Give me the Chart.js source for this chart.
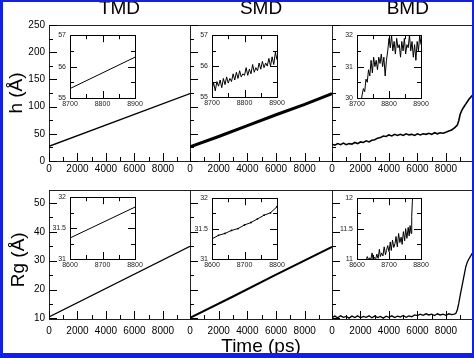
<!DOCTYPE html>
<html>
<head>
<meta charset="utf-8">
<script src="https://cdn.jsdelivr.net/npm/chart.js@4.4.1/dist/chart.umd.min.js"></script>
<style>
  html, body { margin: 0; padding: 0; background: #fff; }
  #page { position: relative; width: 474px; height: 358px; overflow: hidden; background: #fff; }
  #page canvas { position: absolute; }
  #frame { position: absolute; left: 0; top: 0; width: 474px; height: 358px; box-sizing: border-box;
           border-style: solid; border-color: #1020e8; border-width: 2px 2px 5px 3px; z-index: 10; }
</style>
</head>
<body>
<div id="page"><div id="frame"></div></div>
<script>
// --- data ---
const timeTicks = [0, 1000, 2000, 3000, 4000, 5000, 6000, 7000, 8000, 9000];
const timeLabels = [0, 2000, 4000, 6000, 8000];
const hTicks = [0, 25, 50, 75, 100, 125, 150, 175, 200, 225, 250];
const hLabels = [0, 50, 100, 150, 200, 250];
const rgTicks = [10, 15, 20, 25, 30, 35, 40, 45, 50];
const rgLabels = [10, 20, 30, 40, 50];

// main curves [time (ps), value]
const tmdH = [[0, 27], [9900, 124]];
const smdH = [[0, 26], [2000, 45], [4000, 65], [6000, 85], [8000, 104], [9900, 124]];
const bmdH = [
  [0, 31], [200, 29], [400, 32], [600, 30], [800, 33], [1000, 30], [1200, 32], [1400, 31],
  [1600, 34], [1800, 32], [2000, 35], [2200, 34], [2400, 37], [2600, 35], [2800, 38], [3000, 39],
  [3200, 42], [3400, 43], [3600, 46], [3800, 45], [4000, 48], [4200, 46], [4400, 49], [4600, 47],
  [4800, 49], [5000, 47], [5200, 50], [5400, 48], [5600, 49], [5800, 47], [6000, 50], [6200, 48],
  [6400, 50], [6600, 49], [6800, 51], [7000, 49], [7200, 52], [7400, 50], [7600, 52], [7800, 51],
  [8000, 53], [8200, 55], [8400, 57], [8600, 61], [8800, 66], [8900, 74], [9000, 86], [9100, 92],
  [9200, 97], [9300, 101], [9400, 105], [9500, 109], [9600, 113], [9700, 116], [9800, 119], [9900, 122]
];
const tmdRg = [[0, 10.5], [9900, 35]];
const smdRg = [[0, 10.2], [3000, 17.6], [6000, 25.2], [9900, 34.8]];
const bmdRg = [
  [0, 10.3], [200, 10.8], [400, 10.2], [600, 10.9], [800, 10.4], [1000, 10.7], [1200, 10.1], [1400, 10.8],
  [1600, 10.3], [1800, 10.9], [2000, 10.2], [2200, 10.7], [2400, 10.4], [2600, 10.9], [2800, 10.2], [3000, 10.8],
  [3200, 10.3], [3400, 10.7], [3600, 10.1], [3800, 10.8], [4000, 10.4], [4200, 10.9], [4400, 10.3], [4600, 10.8],
  [4800, 10.5], [5000, 11.0], [5200, 10.4], [5400, 10.9], [5600, 10.6], [5800, 11.2], [6000, 11.0], [6200, 11.5],
  [6400, 11.1], [6600, 11.6], [6800, 11.2], [7000, 11.5], [7200, 11.0], [7400, 11.6], [7600, 11.2], [7800, 11.5],
  [8000, 11.1], [8200, 11.6], [8400, 11.3], [8600, 11.5], [8700, 11.8], [8800, 13.0], [8900, 15.2], [9000, 18],
  [9100, 20.5], [9200, 23], [9300, 25.5], [9400, 28], [9500, 29.5], [9600, 30.5], [9700, 31.3], [9800, 32.2], [9900, 33]
];

// insets
const hInsetTicks = [8700, 8750, 8800, 8850, 8900];
const hInsetLabels = [8700, 8800, 8900];
const rgInsetTicks = [8600, 8650, 8700, 8750, 8800];
const rgInsetLabels = [8600, 8700, 8800];
const tmdHInY = [55, 55.5, 56, 56.5, 57], tmdHInLab = [55, 56, 57];
const bmdHInY = [30, 30.5, 31, 31.5, 32], bmdHInLab = [30, 31, 32];
const rgInY = [31, 31.25, 31.5, 31.75, 32], rgInLab = [31, 31.5, 32];
const bmdRgInY = [11, 11.25, 11.5, 11.75, 12], bmdRgInLab = [11, 11.5, 12];

const tmdHInset = [[8700, 55.3], [8900, 56.3]];
const smdHInset = [
  [8700, 55.25], [8705, 55.45], [8710, 55.2], [8715, 55.5], [8720, 55.35], [8725, 55.55], [8730, 55.3],
  [8735, 55.6], [8740, 55.4], [8745, 55.65], [8750, 55.45], [8755, 55.6], [8760, 55.5], [8765, 55.75],
  [8770, 55.55], [8775, 55.8], [8780, 55.6], [8785, 55.85], [8790, 55.65], [8795, 55.75], [8800, 55.7],
  [8805, 55.95], [8810, 55.7], [8815, 55.9], [8820, 55.75], [8825, 56.05], [8830, 55.8], [8835, 55.95],
  [8840, 55.85], [8845, 56.1], [8850, 55.9], [8855, 56.15], [8860, 55.95], [8865, 56.1], [8870, 56.0],
  [8875, 56.25], [8880, 56.0], [8885, 56.3], [8890, 56.05], [8895, 56.45], [8900, 56.2]
];
const bmdHInset = [
  [8712, 29.8], [8716, 30.1], [8720, 30.3], [8724, 30.2], [8728, 30.6], [8732, 30.5], [8736, 30.9],
  [8740, 30.7], [8744, 31.2], [8748, 30.8], [8752, 31.3], [8756, 31.0], [8760, 31.2], [8764, 30.9],
  [8768, 31.3], [8772, 31.1], [8776, 31.4], [8780, 31.0], [8784, 31.3], [8788, 30.7], [8792, 31.2],
  [8796, 31.5], [8800, 31.9], [8804, 31.6], [8808, 32.0], [8812, 31.5], [8816, 31.8], [8820, 31.4],
  [8824, 31.9], [8828, 31.6], [8832, 31.7], [8836, 31.3], [8840, 31.8], [8844, 31.5], [8848, 31.9],
  [8852, 31.4], [8856, 31.7], [8860, 31.6], [8864, 32.0], [8868, 31.5], [8872, 31.8], [8876, 31.3],
  [8880, 31.7], [8884, 31.2], [8888, 31.8], [8892, 31.5], [8896, 32.0], [8900, 31.7]
];
const tmdRgInset = [[8600, 31.34], [8800, 31.84]];
const smdRgInset = [
  [8600, 31.33], [8620, 31.39], [8640, 31.42], [8660, 31.47], [8680, 31.5], [8700, 31.56],
  [8720, 31.6], [8740, 31.66], [8760, 31.72], [8780, 31.76], [8800, 31.86]
];
const bmdRgInset = [
  [8628, 10.96], [8632, 11.04], [8636, 10.99], [8640, 11.02], [8643, 10.98], [8647, 11.1], [8650, 11.0],
  [8654, 11.03], [8658, 10.99], [8662, 11.08], [8666, 11.01], [8670, 11.16], [8673, 11.04], [8677, 11.1],
  [8681, 11.05], [8685, 11.2], [8689, 11.07], [8692, 11.14], [8696, 11.22], [8700, 11.12], [8704, 11.28],
  [8707, 11.14], [8711, 11.31], [8715, 11.19], [8719, 11.26], [8722, 11.37], [8726, 11.2], [8730, 11.42],
  [8734, 11.27], [8738, 11.36], [8741, 11.24], [8745, 11.45], [8749, 11.3], [8752, 11.5], [8756, 11.34],
  [8760, 11.52], [8763, 11.38], [8766, 11.55], [8769, 11.42], [8771, 11.7], [8773, 11.95], [8775, 12.1]
];

// --- layout ---
const FONT = '"Liberation Sans", Arial, Helvetica, sans-serif';
const page = document.getElementById('page');
const cols = [{ l: 49, w: 141 }, { l: 190, w: 142 }, { l: 332, w: 141 }];
const rows = [{ t: 25, h: 136 }, { t: 190, h: 129 }];

function addCanvas(l, t, w, h) {
  const c = document.createElement('canvas');
  c.width = w; c.height = h;
  c.style.left = l + 'px'; c.style.top = t + 'px';
  c.style.width = w + 'px'; c.style.height = h + 'px';
  page.insertBefore(c, document.getElementById('frame'));
  return c;
}

function axis(pos, o) {
  const vert = pos === 'left' || pos === 'right';
  const ticks = o.ticks || [o.min, o.max];
  const majors = o.majors || [];
  return {
    type: 'linear', axis: vert ? 'y' : 'x', position: pos,
    min: o.min, max: o.max,
    afterBuildTicks: s => { s.ticks = ticks.map(v => ({ value: v })); },
    afterFit: s => { if (vert) s.width = o.size; else s.height = o.size; },
    grid: { drawOnChartArea: false, drawTicks: false },
    border: { display: true, color: o.frame || '#000', width: 1 },
    ticks: {
      display: !!o.labels, autoSkip: false, maxRotation: 0, minRotation: 0,
      padding: o.pad || 0, color: o.color || '#000',
      font: { family: FONT, size: o.fontSize || 10 },
      callback: v => (o.labels && majors.includes(v)) ? String(v) : ''
    },
    title: o.title
      ? { display: true, text: o.title, color: '#000', font: { family: FONT, size: 19 }, padding: o.titlePad }
      : { display: false }
  };
}

function line(pairs, w, extra) {
  return Object.assign({
    data: pairs.map(p => ({ x: p[0], y: p[1] })),
    borderColor: '#000', borderWidth: w, pointRadius: 0, tension: 0, fill: false
  }, extra || {});
}

// axes: { id: [position, opts] }
function chart(box, mg, axes, datasets) {
  const scales = {}, specs = [];
  Object.keys(axes).forEach(id => {
    const [pos, o] = axes[id];
    scales[id] = axis(pos, o);
    if (o.major) specs.push({ id, pos, values: o.ticks, majors: o.majors, major: o.major, minor: o.minor });
  });
  // tick marks pointing into the plot, long at labelled values
  const inwardTicks = {
    id: 'inwardTicks',
    afterDraw(ch) {
      const ctx = ch.ctx, a = ch.chartArea;
      ctx.save();
      ctx.strokeStyle = '#000';
      ctx.lineWidth = 1;
      ctx.setLineDash([]);
      ctx.beginPath();
      specs.forEach(sp => {
        const s = ch.scales[sp.id];
        sp.values.forEach(v => {
          const len = sp.majors.indexOf(v) >= 0 ? sp.major : sp.minor;
          const p = Math.round(s.getPixelForValue(v)) + 0.5;
          if (sp.pos === 'bottom') { ctx.moveTo(p, a.bottom); ctx.lineTo(p, a.bottom - len); }
          else if (sp.pos === 'top') { ctx.moveTo(p, a.top); ctx.lineTo(p, a.top + len); }
          else if (sp.pos === 'left') { ctx.moveTo(a.left, p); ctx.lineTo(a.left + len, p); }
          else { ctx.moveTo(a.right, p); ctx.lineTo(a.right - len, p); }
        });
      });
      ctx.stroke();
      ctx.restore();
    }
  };
  const c = addCanvas(box.l - mg.l, box.t - mg.t, box.w + mg.l + mg.r, box.h + mg.t + mg.b);
  new Chart(c, {
    type: 'line',
    data: { datasets },
    options: {
      responsive: false, animation: false, events: [],
      layout: { padding: 0 },
      plugins: { legend: { display: false }, tooltip: { enabled: false } },
      scales
    },
    plugins: [inwardTicks]
  });
}

// --- main panels ---
const titles = ['TMD', 'SMD', '\u00a0\u00a0BMD'];
const hData = [tmdH, smdH, bmdH];
const hWidth = [1.3, 3, 1.6];
const rgData = [tmdRg, smdRg, bmdRg];
const rgWidth = [1.3, 2, 1.3];
const FRAME = '#222';

cols.forEach((col, i) => {
  // top row: h
  let box = { l: col.l, t: rows[0].t, w: col.w, h: rows[0].h };
  let mg = { l: 45, t: 30, r: 8, b: 22 };
  chart(box, mg, {
    x: ['bottom', { min: 0, max: 9900, ticks: timeTicks, majors: timeLabels, size: mg.b, major: 8, minor: 4, pad: 2, labels: true, frame: FRAME }],
    x2: ['top', { min: 0, max: 9900, size: mg.t, frame: FRAME, title: titles[i], titlePad: { top: 2, bottom: 0 } }],
    y: ['left', { min: 0, max: 250, ticks: hTicks, majors: hLabels, size: mg.l, major: 8, minor: 4, pad: 4, labels: i === 0, frame: FRAME,
                  title: i === 0 ? 'h (\u00c5)' : null, titlePad: { top: 1, bottom: 0 } }],
    y2: ['right', { min: 0, max: 250, size: mg.r, frame: FRAME }]
  }, [line(hData[i], hWidth[i])]);

  // bottom row: Rg
  box = { l: col.l, t: rows[1].t, w: col.w, h: rows[1].h };
  mg = { l: 45, t: 25, r: 8, b: 40 };
  chart(box, mg, {
    x: ['bottom', { min: 0, max: 9900, ticks: timeTicks, majors: timeLabels, size: mg.b, major: 8, minor: 4, pad: 6, labels: true, frame: FRAME,
                    title: i === 1 ? 'Time (ps)' : null, titlePad: { top: 0, bottom: 1 } }],
    x2: ['top', { min: 0, max: 9900, size: mg.t, frame: FRAME }],
    y: ['left', { min: 9.8, max: 54.5, ticks: rgTicks, majors: rgLabels, size: mg.l, major: 8, minor: 4, pad: 4, labels: i === 0, frame: FRAME,
                  title: i === 0 ? 'Rg (\u00c5)\u00a0\u00a0' : null, titlePad: { top: 3, bottom: 0 } }],
    y2: ['right', { min: 9.8, max: 54.5, size: mg.r, frame: FRAME }]
  }, [line(rgData[i], rgWidth[i])]);
});

// --- insets ---
function inset(box, xr, xt, xl, yr, yt, yl, ds) {
  const mg = { l: 22, t: 6, r: 12, b: 14 };
  const common = { major: 7, minor: 4, fontSize: 7, color: '#222' };
  chart(box, mg, {
    x: ['bottom', Object.assign({ min: xr[0], max: xr[1], ticks: xt, majors: xl, size: mg.b, pad: 2, labels: true }, common)],
    x2: ['top', Object.assign({ min: xr[0], max: xr[1], ticks: xt, majors: xl, size: mg.t }, common)],
    y: ['left', Object.assign({ min: yr[0], max: yr[1], ticks: yt, majors: yl, size: mg.l, pad: 4, labels: true }, common)],
    y2: ['right', Object.assign({ min: yr[0], max: yr[1], ticks: yt, majors: yl, size: mg.r }, common)]
  }, ds);
}

inset({ l: 70, t: 33, w: 65, h: 65 }, [8700, 8900], hInsetTicks, hInsetLabels, [55, 57], tmdHInY, tmdHInLab, [line(tmdHInset, 1)]);
inset({ l: 212, t: 33, w: 65, h: 64 }, [8700, 8900], hInsetTicks, hInsetLabels, [55, 57], tmdHInY, tmdHInLab, [line(smdHInset, 1)]);
inset({ l: 357, t: 33, w: 64, h: 65 }, [8700, 8900], hInsetTicks, hInsetLabels, [30, 32], bmdHInY, bmdHInLab, [line(bmdHInset, 1)]);
inset({ l: 70, t: 195, w: 65, h: 64 }, [8600, 8800], rgInsetTicks, rgInsetLabels, [31, 32], rgInY, rgInLab, [line(tmdRgInset, 1)]);
inset({ l: 212, t: 196, w: 65, h: 63 }, [8600, 8800], rgInsetTicks, rgInsetLabels, [31, 32], rgInY, rgInLab,
      [line(smdRgInset, 1, { pointRadius: 0.9, pointBackgroundColor: '#000', pointBorderWidth: 0 })]);
inset({ l: 357, t: 196, w: 64, h: 63 }, [8600, 8800], rgInsetTicks, rgInsetLabels, [11, 12], bmdRgInY, bmdRgInLab, [line(bmdRgInset, 1)]);
</script>
</body>
</html>
